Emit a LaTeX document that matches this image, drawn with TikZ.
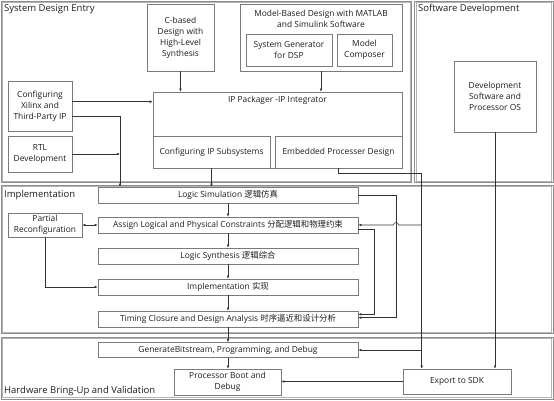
\documentclass[tikz,border=0pt]{standalone}
\usepackage{fontspec}
\setmainfont{Open Sans}
\newfontfamily\cjk{Noto Sans CJK SC}
\usetikzlibrary{arrows.meta,calc}
\definecolor{boxgray}{HTML}{7A7A7A}
\definecolor{lngray}{HTML}{333333}
\definecolor{frgray}{HTML}{8C8C8C}
\definecolor{frgray2}{HTML}{B4B4B4}
\definecolor{txt}{HTML}{1E1E1E}
\begin{document}
\begin{tikzpicture}[x=1pt,y=-1pt,
  font=\fontsize{8.4}{11}\selectfont,
  box/.style={draw=boxgray, line width=0.7pt, inner sep=1pt, align=center, text=txt},
  lbl/.style={inner sep=0pt, align=center, text=txt},
  arr/.style={draw=lngray, line width=0.55pt, -{Latex[length=3pt,width=2.6pt]}},
  darr/.style={draw=lngray, line width=0.55pt, {Latex[length=3pt,width=2.6pt]}-{Latex[length=3pt,width=2.6pt]}},
  frameo/.style={draw=frgray, line width=0.8pt},
  framei/.style={draw=frgray2, line width=0.6pt},
  sect/.style={font=\fontsize{9.5}{11}\selectfont, inner sep=0pt, text=txt}]
\useasboundingbox (0,0) rectangle (554,400);
\fill[white] (0,0) rectangle (554,400);

% section frames (double lines)
\draw[frameo] (1,1) rectangle (411.5,182.5);
\draw[framei] (2.6,2.6) rectangle (409.9,180.9);
\draw[frameo] (414.5,1) rectangle (553,182.5);
\draw[framei] (416.1,2.6) rectangle (551.4,180.9);
\draw[frameo] (1,185) rectangle (553,333.5);
\draw[framei] (2.6,186.6) rectangle (551.4,331.9);
\draw[frameo] (1,337) rectangle (553,399);
\draw[framei] (2.6,338.6) rectangle (551.4,397.4);
\node[sect, anchor=north west] (tsde) at (4,4.5) {System Design Entry};
\node[sect, anchor=north west] (tsd) at (418,4.5) {Software Development};
\node[sect, anchor=north west] (timp) at (4,190) {Implementation};
\node[sect, anchor=south west] (thw) at (4,396) {Hardware Bring-Up and Validation};

% System design entry
\node[box, minimum width=67pt, minimum height=67pt] (cbased) at (180.5,37.5) {C-based\\Design with\\High-Level\\Synthesis};
\node[box, minimum width=162pt, minimum height=67pt] (model) at (321,37.5) {};
\node[lbl] (modeltxt) at (321,18.5) {Model-Based Design with MATLAB\\and Simulink Software};
\node[box, minimum width=86pt, minimum height=32pt] (sysgen) at (289,50) {System Generator\\for DSP};
\node[box, minimum width=55pt, minimum height=32pt] (composer) at (364.5,50) {Model\\Composer};
\node[box, minimum width=64pt, minimum height=50pt] (xilinx) at (40,106) {Configuring\\Xilinx and\\Third-Party IP};
\node[box, minimum width=64pt, minimum height=36pt] (rtl) at (40,154) {RTL\\Development};
\node[box, minimum width=249pt, minimum height=76pt] (ipp) at (277.5,130) {};
\node[lbl] (ipptxt) at (277.5,100) {IP Packager -IP Integrator};
\node[box, minimum width=117pt, minimum height=32pt] (cfgip) at (211.5,152) {Configuring IP Subsystems};
\node[box, minimum width=127pt, minimum height=32pt] (emb) at (338.5,152) {Embedded Processer Design};

% Software development
\node[box, minimum width=82pt, minimum height=71pt] (devsw) at (495,96.5) {Development\\Software and\\Processor OS};

% Implementation
\node[box, minimum width=260pt, minimum height=16pt] (logsim) at (228,195) {Logic Simulation {\cjk 逻辑仿真}};
\node[box, minimum width=260pt, minimum height=16pt] (assign) at (228,225) {Assign Logical and Physical Constraints {\cjk 分配逻辑和物理约束}};
\node[box, minimum width=260pt, minimum height=16pt] (synth) at (228,256) {Logic Synthesis {\cjk 逻辑综合}};
\node[box, minimum width=260pt, minimum height=16pt] (impl) at (228,287) {Implementation {\cjk 实现}};
\node[box, minimum width=260pt, minimum height=16pt] (timing) at (228,319) {Timing Closure and Design Analysis {\cjk 时序逼近和设计分析}};
\node[box, minimum width=74pt, minimum height=24pt, font=\fontsize{8.4}{10.7}\selectfont] (partial) at (45,225) {Partial\\Reconfiguration};

% Hardware bring-up
\node[box, minimum width=260pt, minimum height=15pt] (gen) at (228,350) {GenerateBitstream, Programming, and Debug};
\node[box, minimum width=107pt, minimum height=26pt] (boot) at (227.5,382) {Processor Boot and\\Debug};
\node[box, minimum width=108pt, minimum height=25pt] (export) at (457,381.5) {Export to SDK};

% helper coordinates
\coordinate (x1) at ($(xilinx.east)+(0,-4.3)$);
\coordinate (x2) at ($(xilinx.east)+(0,10.7)$);
\coordinate (busx) at (120,0);
\coordinate (busE) at (421.7,173);
\coordinate (hop) at (396,0);
\coordinate (hopR) at (398.5,225);
\coordinate (t1) at ($(timing.east)+(0,-1.3)$);
\coordinate (t2) at ($(timing.east)+(0,-4.7)$);
\coordinate (a2) at ($(assign.east)+(0,4.3)$);

% connectors
\draw[arr] (cbased.south) -- (cbased.south |- ipp.north);
\draw[arr] (model.south) -- (model.south |- ipp.north);
\draw[arr] (x1) -- (x1 -| ipp.west);
\draw[arr] (x2) -- (x2 -| busx) -- (busx |- logsim.north);
\draw[arr] (rtl.east) -- (rtl.east -| busx);
\draw[arr] (cfgip.south) -- (cfgip.south |- logsim.north);
\draw[arr] (emb.south) -- (emb.south |- busE) -- (busE) -- (busE |- export.north);
\draw[arr] (logsim.east) -- (logsim.east -| hop) |- (t1);
\draw[arr] (a2) -- ++(16.3,0) |- (t2);
\draw[arr] (busE |- assign.east) -- (hopR) arc (0:180:2.5pt) -- (assign.east);
\draw[arr] (busE |- gen.east) -- (gen.east);
\draw[darr] (partial.east) -- (partial.east -| assign.west);
\draw[arr] (partial.south) |- (impl.west);
\draw[arr] (logsim.south) -- (assign.north);
\draw[arr] (assign.south) -- (synth.north);
\draw[arr] (synth.south) -- (impl.north);
\draw[arr] (impl.south) -- (timing.north);
\draw[arr] (timing.south) -- (gen.north);
\draw[arr] (gen.south) -- (gen.south |- boot.north);
\draw[arr] (devsw.south) -- (devsw.south |- export.north);
\draw[arr] (export.west) -- (export.west -| boot.east);
\end{tikzpicture}
\end{document}
